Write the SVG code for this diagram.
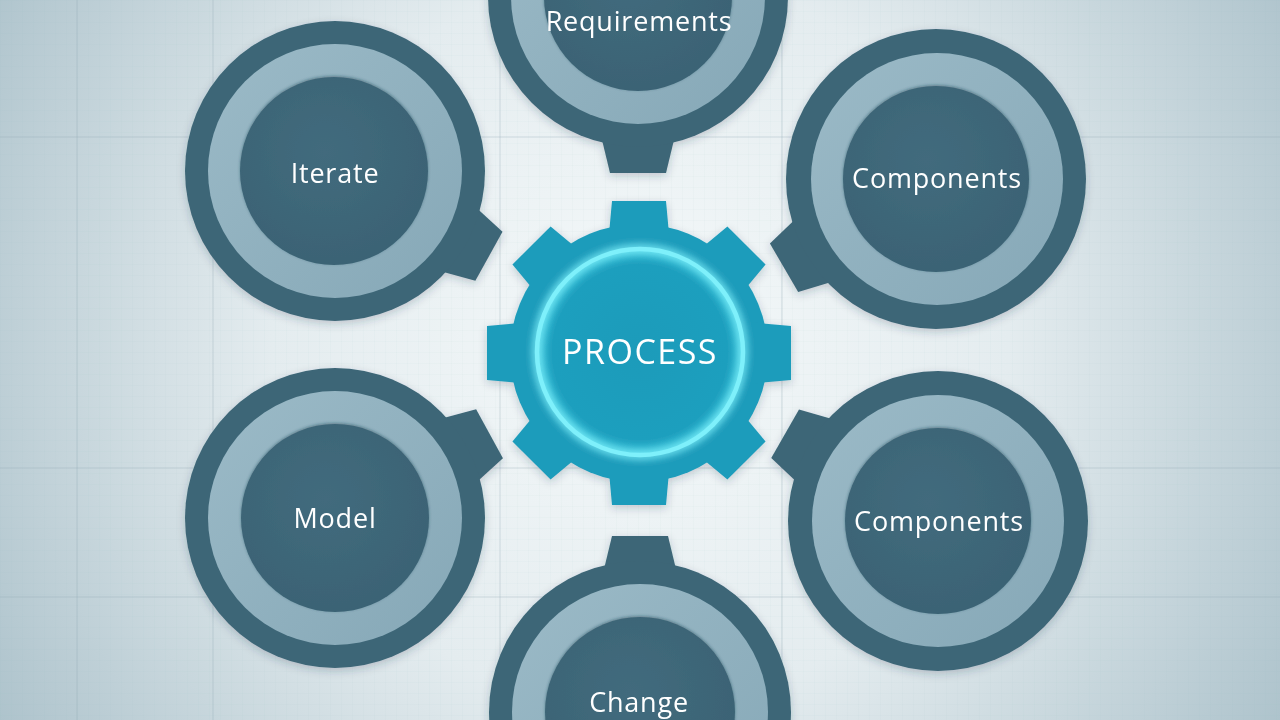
<svg xmlns="http://www.w3.org/2000/svg" width="1280" height="720" viewBox="0 0 1280 720">
  <defs>
    <radialGradient id="bg" cx="640" cy="340" r="820" gradientUnits="userSpaceOnUse">
      <stop offset="0" stop-color="#f5f9fa"/>
      <stop offset="0.45" stop-color="#e4ecef"/>
      <stop offset="1" stop-color="#a3bbc5"/>
    </radialGradient>
    <pattern id="minor" width="11" height="11" patternUnits="userSpaceOnUse">
      <path d="M11 0 L0 0 L0 11" fill="none" stroke="#8fa9b4" stroke-width="0.6" stroke-opacity="0.15"/>
    </pattern>
    <linearGradient id="ringGrad" x1="0" y1="0" x2="1" y2="1">
      <stop offset="0" stop-color="#9bbac7"/>
      <stop offset="1" stop-color="#86a8b7"/>
    </linearGradient>
    <radialGradient id="innerGrad" cx="0.45" cy="0.4" r="0.65">
      <stop offset="0" stop-color="#426b7d"/>
      <stop offset="1" stop-color="#3a6274"/>
    </radialGradient>
    <radialGradient id="coreGrad" cx="0.5" cy="0.5" r="0.5">
      <stop offset="0" stop-color="#1c9bba"/>
      <stop offset="0.85" stop-color="#1e9fbe"/>
      <stop offset="1" stop-color="#3bc3da"/>
    </radialGradient>
    <filter id="shadow" x="-20%" y="-20%" width="140%" height="140%">
      <feDropShadow dx="0" dy="3" stdDeviation="4" flood-color="#1d3a47" flood-opacity="0.22"/>
    </filter>
    <filter id="glow" x="-30%" y="-30%" width="160%" height="160%">
      <feGaussianBlur stdDeviation="4" result="b"/>
      <feMerge><feMergeNode in="b"/><feMergeNode in="b"/><feMergeNode in="SourceGraphic"/></feMerge>
    </filter>
    <filter id="innerEdge" x="-10%" y="-10%" width="120%" height="120%">
      <feDropShadow dx="0" dy="-1" stdDeviation="1.5" flood-color="#1f3d4a" flood-opacity="0.45"/>
    </filter>
    <path id="tab" d="M118 -42 L176 -28 L176 28 L118 42 Z"/>
    <path id="tooth" d="M108 -31 L152 -27 L152 27 L108 31 Z"/>
    <style>
      .outer { fill: #3d6677; }
      .ring { fill: url(#ringGrad); }
      .inner { fill: url(#innerGrad); filter: url(#innerEdge); }
      .label { font-family: "Open Sans", "Liberation Sans", sans-serif; font-size: 27px; fill: #ffffff; text-anchor: middle; letter-spacing: 0.8px; }
      .major { stroke: #8ea7b2; stroke-width: 1; stroke-opacity: 0.35; }
      .gear { fill: #1f9cbb; }
    </style>
  </defs>

  <!-- background -->
  <rect width="1280" height="720" fill="url(#bg)"/>
  <rect width="1280" height="720" fill="url(#minor)"/>
  <g id="grid">
    <line class="major" x1="77" y1="0" x2="77" y2="720"/>
    <line class="major" x1="213" y1="0" x2="213" y2="720"/>
    <line class="major" x1="500" y1="0" x2="500" y2="720"/>
    <line class="major" x1="782" y1="0" x2="782" y2="720"/>
    <line class="major" x1="0" y1="137" x2="1280" y2="137"/>
    <line class="major" x1="0" y1="468" x2="1280" y2="468"/>
    <line class="major" x1="0" y1="597" x2="1280" y2="597"/>
  </g>

  <g id="connectors"></g>

  <!-- central gear -->
  <g id="process" filter="url(#shadow)">
    <g class="gear" transform="translate(639,353)">
      <circle r="129"/>
      <use href="#tooth"/>
      <use href="#tooth" transform="rotate(45)"/>
      <use href="#tooth" transform="rotate(90)"/>
      <use href="#tooth" transform="rotate(135)"/>
      <use href="#tooth" transform="rotate(180)"/>
      <use href="#tooth" transform="rotate(225)"/>
      <use href="#tooth" transform="rotate(270)"/>
      <use href="#tooth" transform="rotate(315)"/>
    </g>
    <circle cx="640" cy="352" r="103" fill="url(#coreGrad)"/>
    <circle cx="640" cy="352" r="103" fill="none" stroke="#7ef0fb" stroke-width="4.5" filter="url(#glow)"/>
    <text x="640" y="364" font-family="'Open Sans', 'Liberation Sans', sans-serif" font-size="34" fill="#ffffff" text-anchor="middle" letter-spacing="1.5">PROCESS</text>
  </g>

  <!-- Requirements (top) -->
  <g id="requirements" filter="url(#shadow)">
    <use href="#tab" class="outer" transform="translate(638,-3) rotate(90)"/>
    <circle class="outer" cx="638" cy="-3" r="150"/>
    <circle class="ring" cx="638" cy="-3" r="127"/>
    <circle class="inner" cx="638" cy="-3" r="94"/>
    <text class="label" x="639" y="31">Requirements</text>
  </g>

  <!-- Components (top right) -->
  <g id="components-top" filter="url(#shadow)">
    <use href="#tab" class="outer" transform="translate(936,179) rotate(149.7)"/>
    <circle class="outer" cx="936" cy="179" r="150"/>
    <circle class="ring" cx="937" cy="179" r="126"/>
    <circle class="inner" cx="936" cy="179" r="93"/>
    <text class="label" x="937" y="188">Components</text>
  </g>

  <!-- Components (bottom right) -->
  <g id="components-bottom" filter="url(#shadow)">
    <use href="#tab" class="outer" transform="translate(938,521) rotate(209.7)"/>
    <circle class="outer" cx="938" cy="521" r="150"/>
    <circle class="ring" cx="938" cy="521" r="126"/>
    <circle class="inner" cx="938" cy="521" r="93"/>
    <text class="label" x="939" y="531">Components</text>
  </g>

  <!-- Change (bottom) -->
  <g id="change" filter="url(#shadow)">
    <use href="#tab" class="outer" transform="translate(640,712) rotate(-90)"/>
    <circle class="outer" cx="640" cy="712" r="151"/>
    <circle class="ring" cx="640" cy="712" r="128"/>
    <circle class="inner" cx="640" cy="712" r="95"/>
    <text class="label" x="639" y="712">Change</text>
  </g>

  <!-- Model (bottom left) -->
  <g id="model" filter="url(#shadow)">
    <use href="#tab" class="outer" transform="translate(335,518) rotate(-28.6)"/>
    <circle class="outer" cx="335" cy="518" r="150"/>
    <circle class="ring" cx="335" cy="518" r="127"/>
    <circle class="inner" cx="335" cy="518" r="94"/>
    <text class="label" x="335" y="528">Model</text>
  </g>

  <!-- Iterate (top left) -->
  <g id="iterate" filter="url(#shadow)">
    <use href="#tab" class="outer" transform="translate(335,171) rotate(29)"/>
    <circle class="outer" cx="335" cy="171" r="150"/>
    <circle class="ring" cx="335" cy="171" r="127"/>
    <circle class="inner" cx="334" cy="171" r="94"/>
    <text class="label" x="335" y="183">Iterate</text>
  </g>
</svg>
